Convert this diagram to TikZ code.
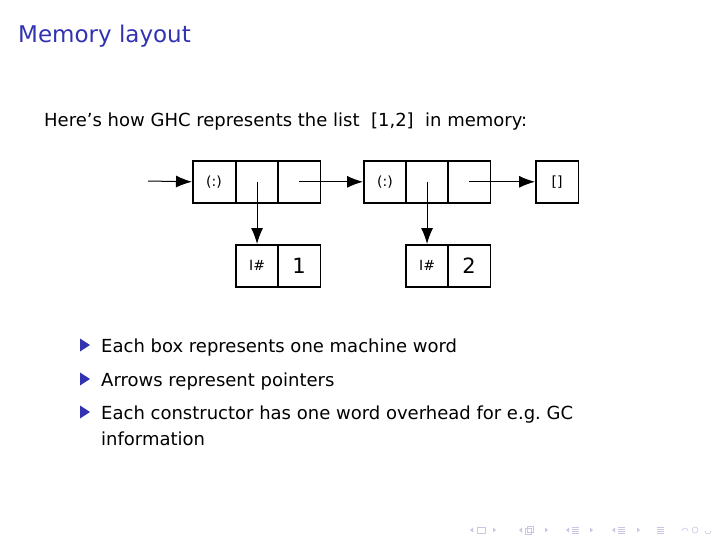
\documentclass[tikz,border=0pt]{standalone}
\usepackage{fontspec}
\setmainfont{DejaVu Sans}
\usetikzlibrary{arrows.meta}
\definecolor{titleblue}{RGB}{51,51,178}
\definecolor{navc}{RGB}{200,200,230}
\begin{document}
\begin{tikzpicture}[x=1pt,y=-1pt,
  cell/.style={draw,line width=1.6pt,minimum width=42.5pt,minimum height=42pt,inner sep=0pt,anchor=north west,font=\fontsize{14}{16}\selectfont},
  big/.style={cell,font=\fontsize{21}{24}\selectfont},
  ptr/.style={-{Latex[length=16pt,width=12pt]},line width=1pt},
  txt/.style={anchor=base west,inner sep=0pt,font=\fontsize{18}{21}\selectfont}]
\useasboundingbox[fill=white] (0,0) rectangle (728,546);
\node[anchor=base west,inner sep=0pt,text=titleblue,font=\fontsize{23}{26}\selectfont] (title) at (18,42) {Memory layout};
\node[txt] (intro) at (44,126) {Here's how GHC represents the list \ [1,2] \ in memory:};
\node[cell] (a1) at (192,160) {(:)};
\node[cell] (a2) at (235,160) {};
\node[cell] (a3) at (277,160) {};
\node[cell] (b1) at (363,160) {(:)};
\node[cell] (b2) at (405,160) {};
\node[cell] (b3) at (447,160) {};
\node[cell] (nil) at (535,160) {[]};
\node[cell] (i1) at (235,244) {I\#};
\node[big] (v1) at (277,244) {1};
\node[cell] (i2) at (405,244) {I\#};
\node[big] (v2) at (447,244) {2};
\coordinate (start) at (148,181);
\draw[ptr] (start) -- (a1.west);
\draw[ptr] (a3.center) -- (b1.west);
\draw[ptr] (b3.center) -- (nil.west);
\draw[ptr] (a2.center) -- (i1.north);
\draw[ptr] (b2.center) -- (i2.north);
\foreach \y in {345,379,412}{
  \fill[titleblue] (80,\y-6.5) -- (90,\y) -- (80,\y+6.5) -- cycle;
}
\node[txt] (l1) at (101,352) {Each box represents one machine word};
\node[txt] (l2) at (101,386) {Arrows represent pointers};
\node[txt] (l3) at (101,419) {Each constructor has one word overhead for e.g.\ GC};
\node[txt] (l4) at (101,445) {information};
\begin{scope}[navc,line width=0.6pt]
\foreach \x in {470,519,566,612}{\fill (\x,530) -- (\x+3,527.5) -- (\x+3,532.5) -- cycle;}
\foreach \x in {493,545,590,637}{\fill (\x+3,530) -- (\x,527.5) -- (\x,532.5) -- cycle;}
\draw (477,527) rectangle (485,533);
\draw (525,528) rectangle (531,534); \draw (527,526) rectangle (533,532);
\foreach \x in {572,618,657}{\foreach \d in {0,2,4,6}{\draw (\x,527+\d) -- (\x+7,527+\d);}}
\draw (682,531) arc (180:360:3); \draw (695,530) circle (3); \draw (705,531) arc (180:0:3);
\end{scope}
\end{tikzpicture}
\end{document}
